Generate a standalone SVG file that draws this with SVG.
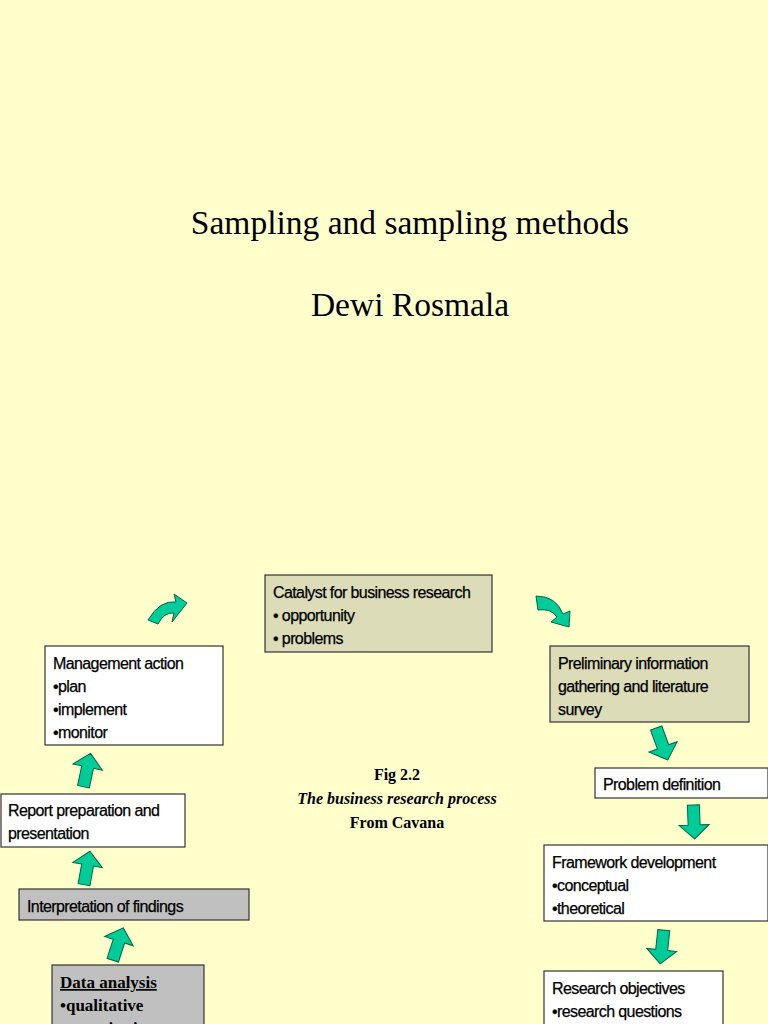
<svg xmlns="http://www.w3.org/2000/svg" width="768" height="1024" viewBox="0 0 768 1024">
<style>
.b{stroke:#333;stroke-width:1.2}
.w{fill:#fff}.g{fill:#c0c0c0}.k{fill:#dcdcb8}
.t{font-family:"Liberation Sans",Arial,sans-serif;font-size:16px;fill:#000;letter-spacing:-0.6px;stroke:#000;stroke-width:0.25px}
.s{font-family:"Liberation Serif","Times New Roman",serif;fill:#000}
.a{fill:#00cc99;stroke:#006644;stroke-width:1}
</style>
<defs>
<polygon id="up" points="0,-17 15,-3 6,-3 6,17 -6,17 -6,-3 -15,-3"/>
</defs>
<rect width="768" height="1024" fill="#ffffcc"/>
<text class="s" x="410" y="234" font-size="33.5" text-anchor="middle">Sampling and sampling methods</text>
<text class="s" x="410" y="316" font-size="33.5" text-anchor="middle">Dewi Rosmala</text>
<g id="caption" class="s" font-size="16" font-weight="bold" text-anchor="middle">
<text x="397" y="780">Fig 2.2</text>
<text x="397" y="804" font-style="italic">The business research process</text>
<text x="397" y="828">From Cavana</text>
</g>
<g id="catalyst"><rect class="b k" x="265" y="575" width="227" height="77"/>
<text class="t" x="273" y="598">Catalyst for business research</text><text class="t" x="273" y="621">• opportunity</text><text class="t" x="273" y="644">• problems</text></g>
<g id="prelim"><rect class="b k" x="550" y="646" width="199" height="76"/>
<text class="t" x="558" y="669">Preliminary information</text><text class="t" x="558" y="692">gathering and literature</text><text class="t" x="558" y="715">survey</text></g>
<g id="problem"><rect class="b w" x="595" y="768" width="173" height="30"/>
<text class="t" x="603" y="790">Problem definition</text></g>
<g id="framework"><rect class="b w" x="544" y="845" width="224" height="76"/>
<text class="t" x="552" y="868">Framework development</text><text class="t" x="552" y="891">•conceptual</text><text class="t" x="552" y="914">•theoretical</text></g>
<g id="objectives"><rect class="b w" x="544" y="971" width="179" height="60"/>
<text class="t" x="552" y="994">Research objectives</text><text class="t" x="552" y="1017">•research questions</text></g>
<g id="management"><rect class="b w" x="45" y="646" width="178" height="99"/>
<text class="t" x="53" y="669">Management action</text><text class="t" x="53" y="692">•plan</text><text class="t" x="53" y="715">•implement</text><text class="t" x="53" y="738">•monitor</text></g>
<g id="report"><rect class="b w" x="1" y="794" width="184" height="53"/>
<text class="t" x="8" y="816">Report  preparation and</text><text class="t" x="8" y="839">presentation</text></g>
<g id="interp"><rect class="b g" x="19" y="889" width="230" height="31"/>
<text class="t" x="27" y="912">Interpretation of findings</text></g>
<g id="data"><rect class="b g" x="52" y="965" width="152" height="70"/>
<text class="s" x="60" y="988" font-size="17" font-weight="bold" text-decoration="underline">Data analysis</text>
<text class="s" x="60" y="1011" font-size="17" font-weight="bold">•qualitative</text>
<text class="s" x="60" y="1034" font-size="17" font-weight="bold">•quantitative</text></g>
<g id="connectors">
<use href="#up" class="a" transform="translate(87,770) rotate(12)"/>
<use href="#up" class="a" transform="translate(87,868) rotate(10)"/>
<use href="#up" class="a" transform="translate(118,944) rotate(18)"/>
<use href="#up" class="a" transform="translate(662,744) rotate(160)"/>
<use href="#up" class="a" transform="translate(694,822) rotate(178)"/>
<use href="#up" class="a" transform="translate(662,947) rotate(186)"/>
<path class="a" d="M148,620 Q160,600 176,602 L174,594 L187,603 L172,622 L174,613 Q164,612 158,624 Z"/>
<path class="a" d="M536,596 Q556,596 563,614 L570,611 L569,627 L551,622 L557,617 Q551,608 538,610 Z"/>
</g>
</svg>
